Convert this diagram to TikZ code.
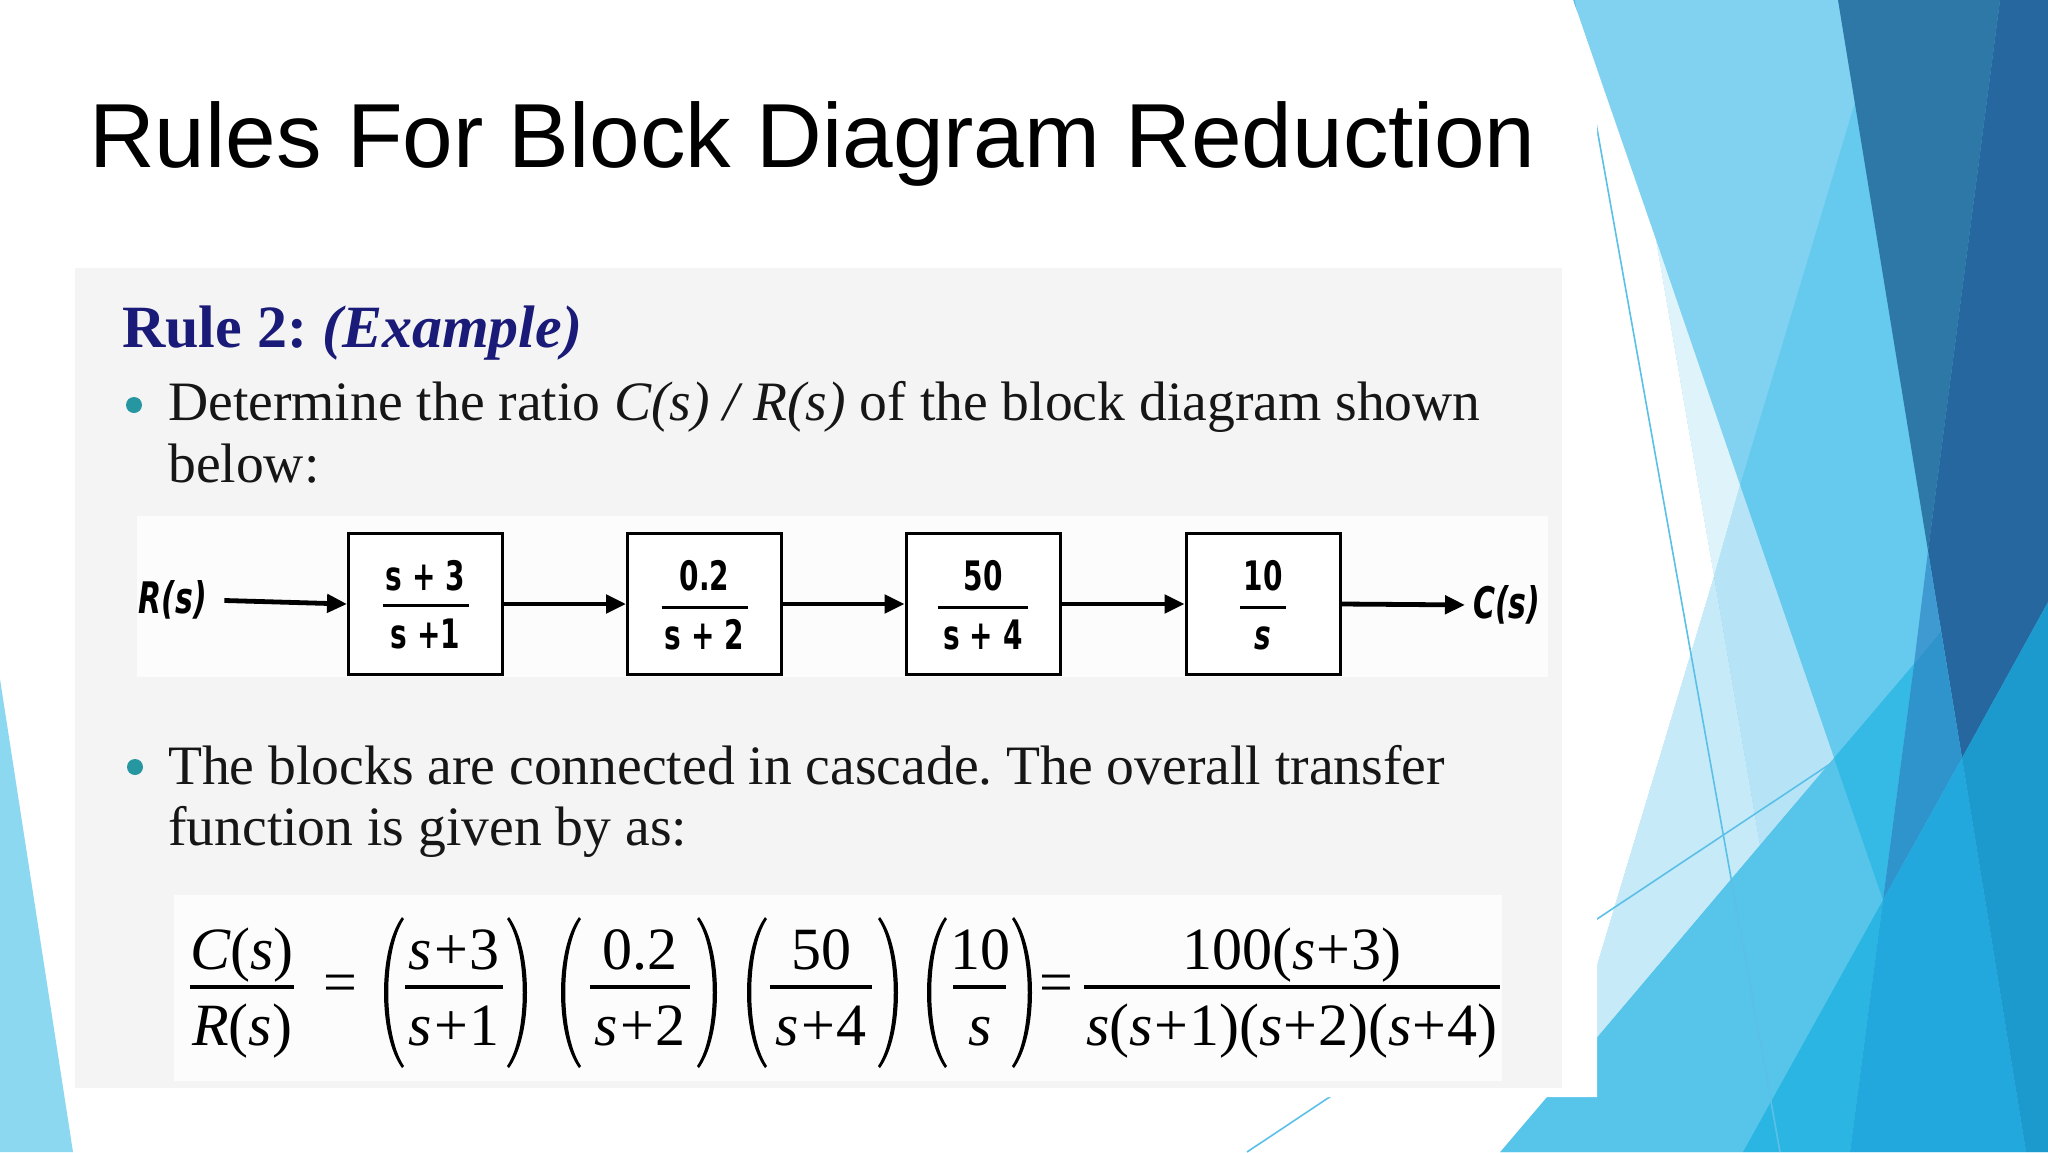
\documentclass[tikz,border=0pt]{standalone}
\usepackage{fontspec}
\setmainfont{Liberation Serif}
\newfontfamily\titlefont{Liberation Sans}
\newfontfamily\blkfont{DejaVu Sans}
\usetikzlibrary{arrows.meta,calc}
\frenchspacing

\definecolor{cMed}{RGB}{102,201,238}
\definecolor{cLight}{RGB}{128,210,240}
\definecolor{cPale}{RGB}{182,228,246}
\definecolor{cPaler}{RGB}{198,234,248}
\definecolor{cWedge}{RGB}{223,243,251}
\definecolor{cDark}{RGB}{46,120,168}
\definecolor{cDarker}{RGB}{38,103,159}
\definecolor{cMid}{RGB}{62,154,208}
\definecolor{cBandL}{RGB}{87,196,234}
\definecolor{cBandR}{RGB}{53,185,229}
\definecolor{cBlueTwo}{RGB}{47,147,204}
\definecolor{cBotL}{RGB}{43,181,227}
\definecolor{cBotM}{RGB}{34,168,220}
\definecolor{cBotR}{RGB}{28,153,205}
\definecolor{cLeftTri}{RGB}{141,216,241}
\definecolor{cThin}{RGB}{91,192,232}
\definecolor{panelgray}{RGB}{244,244,244}
\definecolor{navy}{RGB}{26,26,120}
\definecolor{bullet}{RGB}{38,150,160}
\definecolor{textblack}{RGB}{22,22,22}

\newcommand{\myLP}[1]{\fill[black,shift={(#1,0)}] (22,917) .. controls (-2,950) and (-2,1035) .. (22,1068) -- (24,1066) .. controls (3,1035) and (3,950) .. (24,919) -- cycle;}
\newcommand{\myRP}[1]{\fill[black,shift={(#1,0)}] (2,917) .. controls (26,950) and (26,1035) .. (2,1068) -- (0,1066) .. controls (21,1035) and (21,950) .. (0,919) -- cycle;}
\newcommand{\tall}[1]{\scalebox{1}[1.45]{#1}}

\tikzset{
  blk/.style={draw=black, line width=3pt, minimum width=154pt, minimum height=141pt, inner sep=0pt, fill=white},
  sig/.style={line width=4.8pt, -{Triangle[length=20pt,width=18pt]}},
  btxt/.style={font=\blkfont\bfseries\fontsize{28}{30}\selectfont, inner sep=0pt, anchor=base},
  lbl/.style={font=\blkfont\bfseries\itshape\fontsize{30}{32}\selectfont, inner sep=0pt},
  body/.style={font=\fontsize{55.6}{62}\selectfont, inner sep=0pt, anchor=base west, text=textblack},
  eq/.style={font=\fontsize{60}{66}\selectfont, inner sep=0pt, anchor=base, text=black},
  fbar/.style={line width=3pt},
  ebar/.style={line width=3.2pt},
  thin/.style={draw=cThin, line width=1.6pt},
  dot/.style={circle, fill=bullet, minimum size=16pt, inner sep=0pt}
}

\begin{document}
\begin{tikzpicture}[x=1pt,y=-1pt]
\useasboundingbox (0,0) rectangle (2048,1152);
\fill[white] (0,0) rectangle (2048,1152);

% ---- right-hand facets ----
\fill[cMed] (1560,0) -- (2048,0) -- (2048,1152) -- (1500,1152) -- cycle;
\fill[cLight] (1573,0) -- (1838,0) -- (1855,102) -- (1740,485) -- cycle;
\fill[cPale] (1740,485) -- (1834,758) -- (1760,845) -- (1714,576) -- cycle;
\fill[cPaler] (1714,576) -- (1760,845) -- (1563,1078) -- cycle;
\fill[cWedge] (1656,240) -- (1740,485) -- (1714,576) -- cycle;
\fill[cDark] (1838,0) -- (2000,0) -- (1928,551) -- cycle;
\fill[cDarker] (2000,0) -- (2048,0) -- (2048,602) -- (1962,758) -- (1928,551) -- cycle;
\fill[cMid] (1928,551) -- (1941,631) -- (1914,664) -- cycle;
\fill[cBandL] (1500,1152) -- (1834,758) -- (1883,900) -- (1743,1152) -- cycle;
\fill[cBandR] (1834,758) -- (1914,664) -- (1883,900) -- cycle;
\fill[cBlueTwo] (1914,664) -- (1941,631) -- (1962,758) -- (1883,900) -- cycle;
\fill[cBotL] (1743,1152) -- (1883,900) -- (1850,1152) -- cycle;
\fill[cBotM] (1850,1152) -- (1883,900) -- (1962,758) -- (2026,1152) -- cycle;
\fill[cBotR] (2026,1152) -- (1962,758) -- (2048,602) -- (2048,1152) -- cycle;
\fill[white] (1480,0) -- (1573,0) -- (1656,240) -- (1714,576) -- (1563,1078) -- (1500,1152) -- (1480,1152) -- cycle;
\draw[thin] (1574,0) -- (1780,1152);
\draw[thin] (1247,1152) -- (1833,762);

% ---- slide area ----
\fill[white] (0,0) -- (1573,0) -- (1597,70) -- (1597,1097) -- (0,1097) -- cycle;
\fill[cLeftTri] (0,679) -- (73,1152) -- (0,1152) -- cycle;

% ---- pasted panel ----
\fill[panelgray] (75,268) rectangle (1562,1088);
\fill[white!75!panelgray] (137,516) rectangle (1548,677);
\fill[white!75!panelgray] (174,895) rectangle (1502,1081);

% ---- texts ----
\node[anchor=base west, inner sep=0pt, text=black, font=\titlefont\fontsize{91}{100}\selectfont] (title) at (89,167) {Rules For Block Diagram Reduction};
\node[anchor=base west, inner sep=0pt, text=navy, font=\bfseries\fontsize{60}{66}\selectfont] (head) at (122,347) {Rule 2: \textit{(Example)}};
\node[dot] (bul1) at (134,405) {};
\node[body] (t1a) at (168,420) {Determine the ratio \textit{C(s) / R(s)} of the block diagram shown};
\node[body] (t1b) at (168,482) {below:};
\node[dot] (bul2) at (135,767) {};
\node[body] (t2a) at (168,784) {The blocks are connected in cascade. The overall transfer};
\node[body] (t2b) at (168,845) {function is given by as:};

% ---- block diagram ----
\node[lbl, anchor=center] (rs) at (173,600) {\tall{R(s)}};
\node[blk] (b1) at (425.5,604) {};
\node[blk] (b2) at (704.5,604) {};
\node[blk] (b3) at (983,604) {};
\node[blk] (b4) at (1263,604) {};
\node[lbl, anchor=west] (cs) at (1473,605) {\tall{C(s)}};

\node[btxt] (n1) at ($(b1.center)+(0,-14)$) {\tall{s + 3}};
\node[btxt] (d1) at ($(b1.center)+(0,44)$) {\tall{s +1}};
\draw[fbar] ($(b1.center)+(-43,1)$) -- ($(b1.center)+(43,1)$);
\node[btxt] (n2) at ($(b2.center)+(0,-14)$) {\tall{0.2}};
\node[btxt] (d2) at ($(b2.center)+(0,45)$) {\tall{s + 2}};
\draw[fbar] ($(b2.center)+(-43,3)$) -- ($(b2.center)+(43,3)$);
\node[btxt] (n3) at ($(b3.center)+(0,-14)$) {\tall{50}};
\node[btxt] (d3) at ($(b3.center)+(0,45)$) {\tall{s + 4}};
\draw[fbar] ($(b3.center)+(-45,3)$) -- ($(b3.center)+(45,3)$);
\node[btxt] (n4) at ($(b4.center)+(0,-14)$) {\tall{10}};
\node[btxt] (d4) at ($(b4.center)+(0,45)$) {\tall{\itshape s}};
\draw[fbar] ($(b4.center)+(-23,3)$) -- ($(b4.center)+(23,3)$);

\draw[sig, shorten <=17pt] (rs.east) -- (b1.west);
\draw[sig] (b1.east) -- (b2.west);
\draw[sig] (b2.east) -- (b3.west);
\draw[sig] (b3.east) -- (b4.west);
\draw[sig, shorten >=8pt] (b4.east) -- (cs.west);

% ---- equation ----
\node[eq] (e0n) at (242,969) {\textit{C}(\textit{s})};
\node[eq] (e0d) at (242,1045) {\textit{R}(\textit{s})};
\draw[ebar] (190,987) -- (294,987);
\node[eq] (eqa) at (340,1002) {=};

\myLP{380}
\node[eq] (e1n) at (454,969) {\textit{s}\kern2pt+\kern1pt3};
\node[eq] (e1d) at (454,1045) {\textit{s}\kern2pt+\kern1pt1};
\draw[ebar] (405,987) -- (503,987);
\myRP{507}

\myLP{557}
\node[eq] (e2n) at (640,969) {0.2};
\node[eq] (e2d) at (640,1045) {\textit{s}\kern2pt+\kern1pt2};
\draw[ebar] (590,987) -- (690,987);
\myRP{697}

\myLP{743}
\node[eq] (e3n) at (821,969) {50};
\node[eq] (e3d) at (821,1045) {\textit{s}\kern2pt+\kern1pt4};
\draw[ebar] (770,987) -- (872,987);
\myRP{878}

\myLP{923}
\node[eq] (e4n) at (980,969) {10};
\node[eq] (e4d) at (980,1045) {\textit{s}};
\draw[ebar] (953,987) -- (1006,987);
\myRP{1012}

\node[eq] (eqb) at (1056,1002) {=};
\node[eq] (e5n) at (1292,969) {100(\textit{s}\kern1pt+\kern1pt3)};
\node[eq] (e5d) at (1292,1045) {\textit{s}(\textit{s}\kern1pt+\kern1pt1)(\textit{s}\kern1pt+\kern1pt2)(\textit{s}\kern1pt+\kern1pt4)};
\draw[ebar] (1084,987) -- (1500,987);
\end{tikzpicture}
\end{document}
